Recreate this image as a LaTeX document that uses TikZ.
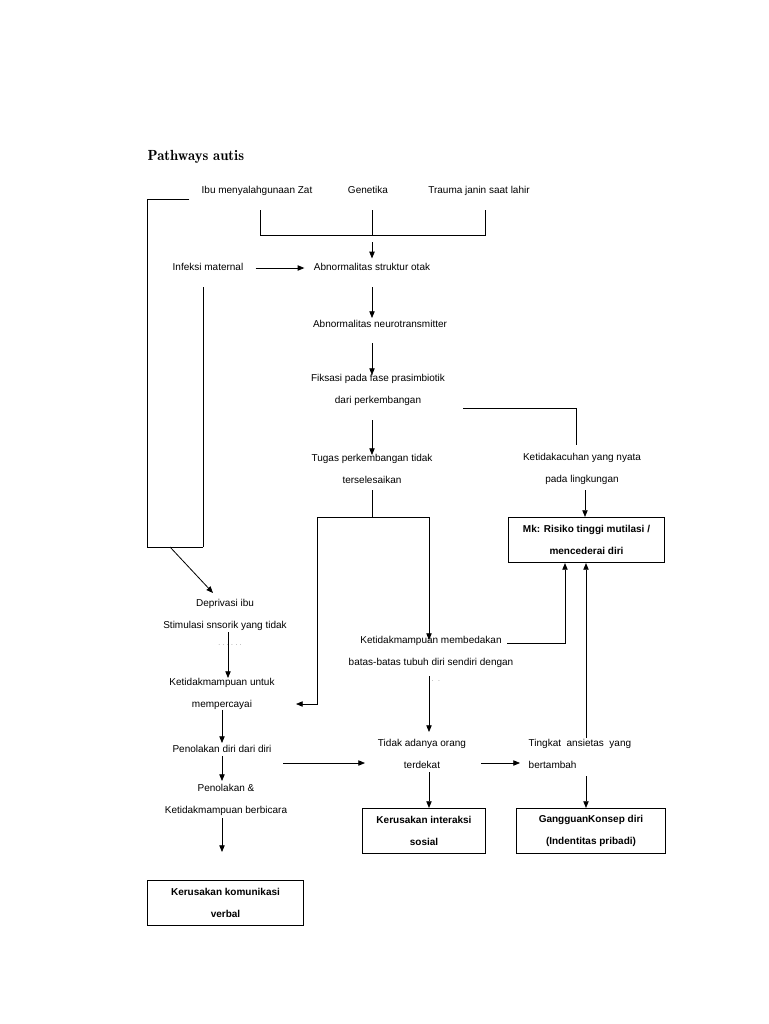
\documentclass[tikz,border=0pt]{standalone}
\usepackage{fontspec}
\setmainfont{Liberation Sans}
\usetikzlibrary{arrows.meta}
\begin{document}
\begin{tikzpicture}[x=0.75pt,y=-0.75pt,font=\fontsize{7.5}{9}\selectfont,
    txt/.style={align=center,inner sep=3pt,text height=6pt,text depth=2pt},
    box/.style={draw,semithick,align=center,font=\fontsize{7.5}{16}\selectfont\bfseries,minimum height=34pt},
    arr/.style={-{Triangle[length=5pt,width=4pt]},semithick},
    ln/.style={semithick}]
  \useasboundingbox (0,0) rectangle (768,1024);
  \node[anchor=west,font=\fontfamily{lmr}\fontsize{11}{13}\selectfont\bfseries] (title) at (143,157) {Pathways autis};

  % sebab
  \node[txt] (ibu) at (257,191) {Ibu menyalahgunaan Zat};
  \node[txt] (gen) at (368,191) {Genetika};
  \node[txt] (trauma) at (479,191) {Trauma janin saat lahir};
  \node[txt] (infeksi) at (208,268) {Infeksi maternal};
  \node[txt] (otak) at (372,268) {Abnormalitas struktur otak};
  \node[txt] (neuro) at (380,325) {Abnormalitas neurotransmitter};
  \node[align=center,font=\fontsize{7.5}{17}\selectfont] (fiksasi) at (378,390) {Fiksasi pada fase prasimbiotik\\dari perkembangan};
  \node[align=center,font=\fontsize{7.5}{17}\selectfont] (tugas) at (372,469) {Tugas perkembangan tidak\\terselesaikan};
  \node[align=center,font=\fontsize{7.5}{17}\selectfont] (acuh) at (582,469) {Ketidakacuhan yang nyata\\pada lingkungan};
  \node[box,minimum width=117pt] (mutilasi) at (586.5,540) {Mk: Risiko tinggi mutilasi /\\mencederai diri};

  % kiri
  \node[align=center,font=\fontsize{7.5}{17}\selectfont] (depri) at (225,615) {Deprivasi ibu\\Stimulasi snsorik yang tidak};
  \node[align=center,font=\fontsize{7.5}{17}\selectfont] (percaya) at (222,694) {Ketidakmampuan untuk\\mempercayai};
  \node[txt] (tolak) at (222,750) {Penolakan diri dari diri};
  \node[align=center,font=\fontsize{7.5}{17}\selectfont] (bicara) at (226,800) {Penolakan \&\\Ketidakmampuan berbicara};
  \node[box,minimum width=117pt] (verbal) at (225.5,903) {Kerusakan komunikasi\\verbal};

  % tengah dan kanan
  \node[align=center,font=\fontsize{7.5}{17}\selectfont] (batas) at (431,652) {Ketidakmampuan membedakan\\batas-batas tubuh diri sendiri dengan};
  \node[align=center,font=\fontsize{7.5}{17}\selectfont] (orang) at (422,754) {Tidak adanya orang\\terdekat};
  \node[font=\fontsize{7.5}{17}\selectfont,align=left,anchor=west] (ansietas) at (524,754) {Tingkat \ ansietas \ yang\\bertambah};
  \node[box,minimum width=92pt] (sosial) at (424,831) {Kerusakan interaksi\\sosial};
  \node[box,minimum width=112pt] (konsep) at (591,831) {GangguanKonsep diri\\(Indentitas pribadi)};

  \node[font=\tiny,gray] (dots1) at (230,645) {. . . . . .};
  \node[font=\tiny,gray] (dots2) at (436,681) {. \ .};

  % penghubung
  \draw[ln] (260,210) -- (260,235) -- (485,235) -- (485,210);
  \draw[ln] (372,210) -- (372,235);
  \draw[arr] (372,242) -- (otak.north -| 372,0);
  \draw[arr] (infeksi.east) ++(8,0) -- ([xshift=-4pt]otak.west);
  \draw[arr] (372,287) -- (372,318);
  \draw[arr] (372,343) -- (372,375);
  \draw[arr] (372,420) -- (372,455);
  \draw[ln] (463,408) -- (576,408) -- (576,445);
  \draw[arr] (585,490) -- (mutilasi.north -| 585,0);
  \draw[ln] (ibu.west) ++(-8,8) -- (147,199) -- (147,547) -- (203,547);
  \draw[ln] (203,287) -- (203,547);
  \draw[arr] (170,547) -- (213,593);
  \draw[ln] (372,490) -- (372,517);
  \draw[ln] (317,517) -- (429,517);
  \draw[arr] (317,517) -- (317,704) -- (296,704);
  \draw[arr] (429,517) -- (429,640);
  \draw[arr] (507,643) -- (565,643) -- (mutilasi.south -| 565,0);
  \draw[arr] (228,632) -- (228,678);
  \draw[arr] (222,710) -- (222,743);
  \draw[arr] (222,756) -- (222,781);
  \draw[arr] (222,818) -- (222,852);
  \draw[arr] (429,676) -- (429,732);
  \draw[arr] (283,763) -- (365,763);
  \draw[arr] (481,763) -- (520,763);
  \draw[arr] (586,738) -- (mutilasi.south -| 586,0);
  \draw[arr] (586,776) -- (konsep.north -| 586,0);
  \draw[arr] (429,772) -- (sosial.north -| 429,0);
\end{tikzpicture}
\end{document}
